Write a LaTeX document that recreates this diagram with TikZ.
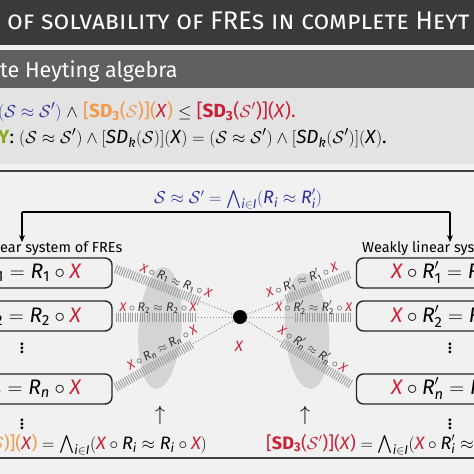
\documentclass[tikz,border=0pt]{standalone}
\usepackage{amsmath,amssymb}
\usepackage{fontspec}
\setmainfont{Fira Sans}
\usetikzlibrary{calc,decorations.pathreplacing,arrows.meta,shapes.geometric}
\definecolor{cblue}{HTML}{2E2E9E}
\definecolor{corange}{HTML}{F29A4A}
\definecolor{cred}{HTML}{CC1F35}
\definecolor{cgreen}{HTML}{8AAA1E}
\definecolor{cdark}{HTML}{3A3A3A}
\definecolor{cblock}{HTML}{606060}
\definecolor{cbody}{HTML}{E3E3E3}
\definecolor{cbg}{HTML}{F1F1F1}
\newcommand\vX{\textcolor{cred}{\textit{X}}}
\newcommand\vR{\textit{R}}
\newcommand\cS{\mathcal{S}}
\newcommand\ii{\text{\itshape i}}
\newcommand\II{\text{\itshape I}}
\newcommand\nn{\text{\itshape n}}
\newcommand\one{\text{1}}
\newcommand\two{\text{2}}
\tikzset{
  eqbox/.style={draw=black!85, line width=1.4pt, rounded corners=7pt, inner sep=0pt, minimum height=30pt},
  eqtxt/.style={inner sep=0pt, font=\fontsize{21}{24}\selectfont},
  lbl/.style={inner sep=0.5pt, font=\fontsize{12.5}{14}\selectfont, text=black!80},
  hatch/.style={draw=black!38, line width=0.9pt, decorate, decoration={ticks, segment length=2.4pt, amplitude=4.5pt}},
  dotline/.style={draw=black!45, line width=1pt, dotted},
  bracket/.style={draw=black, line width=1.8pt},
  darr/.style={bracket, -{Stealth[length=7pt,width=6pt]}},
  frm/.style={inner sep=0pt, font=\fontsize{18}{21}\selectfont},
  frmb/.style={inner sep=0pt, font=\fontsize{19}{22}\selectfont},
  ell/.style={fill=black!17, draw=none},
}
\begin{document}
\begin{tikzpicture}[x=1pt,y=-1pt]
\useasboundingbox (0,0) rectangle (474,474);
\clip (0,0) rectangle (474,474);
% backgrounds
\fill[cbg] (0,0) rectangle (474,474);
\fill[cdark] (0,0) rectangle (474,45);
\fill[cblock] (0,50) rectangle (474,88);
\fill[cbody] (0,88) rectangle (474,164);
\draw[black!75, line width=2pt] (0,171) -- (474,171);
\draw[black!75, line width=2pt] (0,458) -- (474,458);
% header texts
\node[anchor=base west, inner sep=0pt, text=white, font=\fontsize{25.5}{28}\selectfont\scshape] (title) at (7,29.5) {of solvability of FREs in complete Heyt};
\node[anchor=base west, inner sep=0pt, text=white, font=\fontsize{21.5}{24}\selectfont] (btitle) at (0,77) {te Heyting algebra};
\node[anchor=base west, frmb] (line1) at (-2,117) {\textcolor{cblue}{$(\cS\approx\cS')$} $\wedge$ \textcolor{corange}{[\textbf{SD$_{\text{3}}$}($\cS$)](}\vX\textcolor{corange}{)} $\leq$ \textcolor{cred}{[\textbf{SD$_{\text{3}}$}($\cS'$)](\textit{X}).}};
\node[anchor=base west, frmb] (line2) at (-2,143) {\textcolor{cgreen}{\textbf{Y}}: $(\cS\approx\cS')\wedge[$\textit{SD}$_{\text{\itshape k}}(\cS)]($\textit{X}$) = (\cS\approx\cS')\wedge[$\textit{SD}$_{\text{\itshape k}}(\cS')]($\textit{X}$)$.};
% central formula and bracket
\node[frm, text=cblue] (simf) at (238,199) {$\cS\approx\cS' = \bigwedge_{\ii\in\II}(\vR_{\ii}\approx\vR'_{\ii})$};
\coordinate (bl) at (22,212);
\coordinate (br) at (450,212);
\coordinate (blb) at (22,242);
\coordinate (brb) at (450,242);
\draw[bracket] (bl) -- (br);
\draw[darr] (bl) -- (blb);
\draw[darr] (br) -- (brb);
\node[anchor=base west, inner sep=0pt, font=\fontsize{14.5}{17}\selectfont] (lsys) at (0,252) {ear system of FREs};
\node[anchor=base west, inner sep=0pt, font=\fontsize{14.5}{17}\selectfont] (wsys) at (362,252) {Weakly linear syst};
% ellipses
\node[ell, ellipse, minimum width=43pt, minimum height=122pt, rotate=-4] (e1) at (160,328) {};
\node[ell, ellipse, minimum width=44pt, minimum height=116pt, rotate=4] (e2) at (307,331) {};
% left boxes
\node[eqbox, minimum width=147pt] (L1) at (38.5,273) {};
\node[eqbox, minimum width=147pt] (L2) at (38.5,316) {};
\node[eqbox, minimum width=147pt] (L3) at (38.5,389) {};
\node[eqtxt, anchor=base east] (L1t) at (81,278) {$\vR_{\one}=\vR_{\one}\circ\vX$};
\node[eqtxt, anchor=base east] (L2t) at (81,322) {$\vR_{\two}=\vR_{\two}\circ\vX$};
\node[eqtxt, anchor=base east] (L3t) at (81,394) {$\vR_{\nn}=\vR_{\nn}\circ\vX$};
\node[font=\fontsize{20}{22}\selectfont, inner sep=0pt] (ld1) at (22,345) {$\vdots$};
\node[font=\fontsize{20}{22}\selectfont, inner sep=0pt] (ld2) at (22,421) {$\vdots$};
% right boxes
\node[eqbox, minimum width=147pt] (R1) at (430,273) {};
\node[eqbox, minimum width=147pt] (R2) at (430,316) {};
\node[eqbox, minimum width=147pt] (R3) at (430,389) {};
\node[eqtxt, anchor=base west] (R1t) at (391,278) {$\vX\circ\vR'_{\one}=\vR$};
\node[eqtxt, anchor=base west] (R2t) at (391,322) {$\vX\circ\vR'_{\two}=\vR$};
\node[eqtxt, anchor=base west] (R3t) at (391,394) {$\vX\circ\vR'_{\nn}=\vR$};
\node[font=\fontsize{20}{22}\selectfont, inner sep=0pt] (rd1) at (450,345) {$\vdots$};
\node[font=\fontsize{20}{22}\selectfont, inner sep=0pt] (rd2) at (450,421) {$\vdots$};
% centre dot
\node[circle, fill=black, minimum size=14pt, inner sep=0pt] (dot) at (240,317) {};
\node[inner sep=0pt, font=\fontsize{15}{17}\selectfont] (dX) at (239,346) {\vX};
% connector end points
\coordinate (a1) at (116,269);
\coordinate (a2) at (116,317);
\coordinate (a3) at (116,387);
\coordinate (b1) at (351,274);
\coordinate (b2) at (351,317);
\coordinate (b3) at (352,385);
% left lines
\draw[hatch] (a1) -- ($(a1)!0.68!(dot)$);
\draw[dotline] ($(a1)!0.68!(dot)$) -- (dot);
\draw[hatch] (a2) -- ($(a2)!0.64!(dot)$);
\draw[dotline] ($(a2)!0.64!(dot)$) -- (dot);
\draw[hatch] (a3) -- ($(a3)!0.62!(dot)$);
\draw[dotline] ($(a3)!0.62!(dot)$) -- (dot);
% right lines
\draw[dotline] (dot) -- ($(dot)!0.42!(b1)$);
\draw[hatch] ($(dot)!0.42!(b1)$) -- (b1);
\draw[dotline] (dot) -- ($(dot)!0.5!(b2)$);
\draw[hatch] ($(dot)!0.5!(b2)$) -- (b2);
\draw[dotline] (dot) -- ($(dot)!0.38!(b3)$);
\draw[hatch] ($(dot)!0.38!(b3)$) -- (b3);
% labels
\path (a1) -- (dot) node[lbl, pos=0.48, sloped, above=4pt] (la1) {$\vX\circ\vR_{\one}\approx\vR_{\one}\circ\vX$};
\path (a2) -- (dot) node[lbl, pos=0.36, sloped, above=3pt] (la2) {$\vX\circ\vR_{\two}\approx\vR_{\two}\circ\vX$};
\path (a3) -- (dot) node[lbl, pos=0.44, sloped, above=5pt] (la3) {$\vX\circ\vR_{\nn}\approx\vR_{\nn}\circ\vX$};
\path (dot) -- (b1) node[lbl, pos=0.57, sloped, above=4pt] (lb1) {$\vX\circ\vR'_{\one}\approx\vR'_{\one}\circ\vX$};
\path (dot) -- (b2) node[lbl, pos=0.64, sloped, above=2pt] (lb2) {$\vX\circ\vR'_{\two}\approx\vR'_{\two}\circ\vX$};
\path (dot) -- (b3) node[lbl, pos=0.58, sloped, above=2pt] (lb3) {$\vX\circ\vR'_{\nn}\approx\vR'_{\nn}\circ\vX$};
% up arrows
\node[inner sep=0pt, font=\fontsize{20}{22}\selectfont] (up1) at (160,415) {$\uparrow$};
\node[inner sep=0pt, font=\fontsize{20}{22}\selectfont] (up2) at (305,415) {$\uparrow$};
% bottom formulas
\node[frm, anchor=base east] (bf1) at (207,449) {\textcolor{corange}{($\cS$)](}\vX\textcolor{corange}{)} $= \bigwedge_{\ii\in\II}(\vX\circ\vR_{\ii}\approx\vR_{\ii}\circ\vX)$};
\node[frm, anchor=base west] (bf2) at (266,449) {\textcolor{cred}{[\textbf{SD$_{\text{3}}$}($\cS'$)](\textit{X})} $= \bigwedge_{\ii\in\II}(\vX\circ\vR'_{\ii}\approx\vR$};
\end{tikzpicture}
\end{document}
